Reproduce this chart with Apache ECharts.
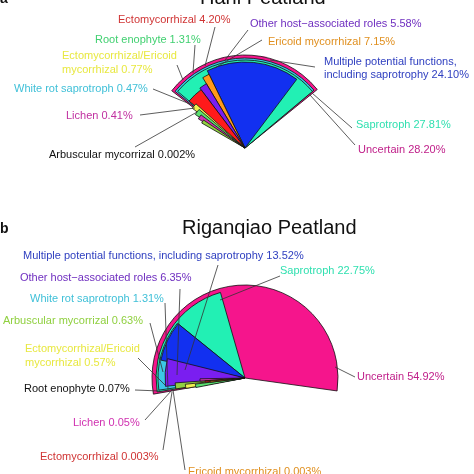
<!DOCTYPE html><html><head><meta charset="utf-8">
<script src="https://cdn.jsdelivr.net/npm/echarts@6/dist/echarts.min.js"></script>
<style>html,body{margin:0;background:#fff}#c{width:474px;height:474px}</style></head><body><div id="c"></div><script>
// ---- data ----
const haniNames=["Uncertain","White rot saprotroph","Saprotroph","Multiple potential functions, including saprotrophy","Ericoid mycorrhizal","Other host-associated roles","Ectomycorrhizal","Ectomycorrhizal/Ericoid mycorrhizal","Root enophyte","Lichen","Arbuscular mycorrizal"];
const haniValues=[28.20,0.47,27.81,24.10,7.15,5.58,4.20,0.77,1.31,0.41,0.002];
const riganNames=["Uncertain","Saprotroph","White rot saprotroph","Multiple potential functions, including saprotrophy","Other host-associated roles","Arbuscular mycorrizal","Ectomycorrhizal/Ericoid mycorrhizal","Root enophyte","Lichen","Ectomycorrhizal","Ericoid mycorrhizal"];
const riganValues=[54.92,22.75,1.31,13.52,6.35,0.63,0.57,0.07,0.05,0.003,0.003];
const colorOf={"Uncertain":"#f5158c","Saprotroph":"#22f0b4","White rot saprotroph":"#3cc8e6","Multiple potential functions, including saprotrophy":"#1230f0","Ericoid mycorrhizal":"#ff9a1a","Other host-associated roles":"#7a1ef0","Ectomycorrhizal":"#ff1a1a","Ectomycorrhizal/Ericoid mycorrhizal":"#f0f050","Root enophyte":"#5ae070","Lichen":"#d030b0","Arbuscular mycorrizal":"#90d040"};
// ---- layout (sector geometry: [fromDeg, toDeg, radius]) ----
const haniGeo=[[39,142,93],[40,141,90],[40,140,88],[53,116,86],[116,121,82],[121,127,75],[127,140,73],[138,143,66],[140,146,60],[143,148,55],[146,150,50]];
const riganGeo=[[-8,190,93],[106,189,89],[141,188,87],[141,168,86],[166,186,80],[184,189,70],[186,190,60],[187,191,50],[181,184,45],[184,186,40],[185,187,35]];
const series=[];
function add(names,vals,geo,cx,cy){
  names.forEach((n,i)=>{const g=geo[i];const span=g[1]-g[0];
    series.push({type:'pie',center:[cx,cy],radius:[0,g[2]],startAngle:g[1],clockwise:true,silent:true,animation:false,label:{show:false},labelLine:{show:false},
      data:[{name:n,value:span,realValue:vals[i],itemStyle:{color:colorOf[n],borderColor:'#111',borderWidth:0.8}},{name:'',value:360-span,itemStyle:{color:'rgba(0,0,0,0)',borderWidth:0}}]});});
}
add(haniNames,haniValues,haniGeo,245,148);
add(riganNames,riganValues,riganGeo,245,378);
const F='Liberation Sans, Arial, sans-serif';
const labels=[
["Ectomycorrhizal 4.20%","#d03434",118,20,[[215,27],[205,66]]],
["Other host\u2212associated roles 5.58%","#7030c0",250,24,[[248,30],[225,60]]],
["Root enophyte 1.31%","#40d070",95,40,[[195,45],[193,73]]],
["Ericoid mycorrhizal 7.15%","#e09020",268,42,[[262,40],[215,68]]],
["Ectomycorrhizal/Ericoid","#e8e840",62,56,null],
["mycorrhizal 0.77%","#e8e840",62,70,[[177,65],[183,80]]],
["Multiple potential functions,","#3040c0",324,62,[[315,67],[270,60]]],
["including saprotrophy 24.10%","#3040c0",324,75,null],
["White rot saprotroph 0.47%","#40c0d8",14,89,[[153,89],[190,104]]],
["Lichen 0.41%","#c030a0",66,116,[[140,115],[195,108]]],
["Saprotroph 27.81%","#30e0b0",356,125,[[352,128],[312,93]]],
["Uncertain 28.20%","#c0208a",358,150,[[355,145],[310,95]]],
["Arbuscular mycorrizal 0.002%","#111",49,155,[[135,147],[197,112]]],
["Multiple potential functions, including saprotrophy 13.52%","#3040c0",23,256,[[218,265],[185,370]]],
["Saprotroph 22.75%","#30e0b0",280,271,[[280,276],[220,300]]],
["Other host\u2212associated roles 6.35%","#7030c0",20,278,[[180,289],[177,375]]],
["White rot saprotroph 1.31%","#40c0d8",30,299,[[165,303],[168,390]]],
["Arbuscular mycorrizal 0.63%","#90d040",3,321,[[150,323],[163,372]]],
["Ectomycorrhizal/Ericoid","#e8e840",25,349,null],
["mycorrhizal 0.57%","#e8e840",25,363,[[138,358],[165,385]]],
["Uncertain 54.92%","#c0208a",357,377,[[355,377],[335,367]]],
["Root enophyte 0.07%","#111",24,389,[[135,390],[160,391]]],
["Lichen 0.05%","#d030b0",73,423,[[145,420],[172,390]]],
["Ectomycorrhizal 0.003%","#d03434",40,457,[[163,450],[172,392]]],
["Ericoid mycorrhizal 0.003%","#e09020",188,472,[[185,470],[173,390]]]
];
const graphic=[
 {type:'text',left:200,top:-12,style:{text:'Hani Peatland',font:'20px '+F,fill:'#111'}},
 {type:'text',left:0,top:-8,style:{text:'a',font:'bold 14px '+F,fill:'#111'}},
 {type:'text',left:182,top:218,style:{text:'Riganqiao Peatland',font:'20px '+F,fill:'#111'}},
 {type:'text',left:0,top:222,style:{text:'b',font:'bold 14px '+F,fill:'#111'}}];
labels.forEach(l=>{
  graphic.push({type:'text',x:l[2],y:l[3],style:{text:l[0],font:'11px '+F,fill:l[1],textVerticalAlign:'middle'},z:10});
  if(l[4])graphic.push({type:'line',shape:{x1:l[4][0][0],y1:l[4][0][1],x2:l[4][1][0],y2:l[4][1][1]},style:{stroke:'#333',lineWidth:0.8},z:20});
});
const chart=echarts.init(document.getElementById('c'));
chart.setOption({backgroundColor:'#fff',animation:false,series,graphic});
</script></body></html>
